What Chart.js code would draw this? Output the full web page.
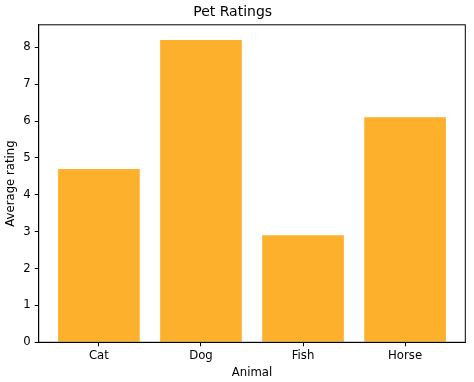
<!DOCTYPE html>
<html>
<head>
<meta charset="utf-8">
<script src="https://cdn.jsdelivr.net/npm/chart.js@4"></script>
<style>
html,body{margin:0;padding:0;background:#fff;}
#wrap{width:474px;height:382px;position:relative;}
</style>
</head>
<body>
<div id="wrap"><canvas id="c" width="474" height="382"></canvas></div>
<script>
const categories = ["Cat", "Dog", "Fish", "Horse"];
const ratings = [4.7, 8.2, 2.9, 6.1];
const yTicks = [0, 1, 2, 3, 4, 5, 6, 7, 8];
const chartTitle = "Pet Ratings";
const xTitle = "Animal";
const yTitle = "Average rating";

const FONT = "'DejaVu Sans', sans-serif";

const framePlugin = {
  id: 'frame',
  afterDatasetsDraw(chart) {
    const {ctx, chartArea: a} = chart;
    ctx.save();
    ctx.strokeStyle = '#000';
    ctx.lineWidth = 1;
    ctx.strokeRect(a.left, a.top, a.right - a.left, a.bottom - a.top);
    ctx.restore();
  }
};

new Chart(document.getElementById('c'), {
  type: 'bar',
  data: {
    datasets: [{
      data: ratings.map((v, i) => ({x: i, y: v})),
      backgroundColor: '#FCB02C',
      borderWidth: 0,
      barPercentage: 0.8,
      categoryPercentage: 1.0
    }]
  },
  options: {
    responsive: false,
    animation: false,
    devicePixelRatio: 1,
    layout: {padding: {left: 0, right: 8.7, top: 0, bottom: 0}},
    plugins: {
      legend: {display: false},
      tooltip: {enabled: false},
      title: {
        display: true,
        text: chartTitle,
        color: '#000',
        font: {family: FONT, size: 14, weight: 'normal'},
        padding: {top: 4, bottom: 4}
      }
    },
    scales: {
      x: {
        type: 'linear',
        offset: false,
        min: -0.59,
        max: 3.59,
        afterBuildTicks(scale) { scale.ticks = categories.map((c, i) => ({value: i})); },
        afterFit(scale) { scale.height = 39.7; },
        ticks: {
          color: '#000',
          font: {family: FONT, size: 11.7},
          padding: 3,
          maxRotation: 0,
          autoSkip: false,
          callback: (v) => categories[v]
        },
        grid: {offset: false, drawOnChartArea: false, drawTicks: true, tickLength: 4, color: '#000'},
        border: {display: true, color: '#000', width: 1},
        title: {
          display: true,
          text: xTitle,
          color: '#000',
          font: {family: FONT, size: 11.7},
          padding: {top: 0, bottom: 2}
        }
      },
      y: {
        type: 'linear',
        min: 0,
        max: 8.61,
        afterBuildTicks(scale) { scale.ticks = yTicks.map(v => ({value: v})); },
        afterFit(scale) { scale.width = 38.7; },
        ticks: {
          color: '#000',
          font: {family: FONT, size: 11.7},
          padding: 4,
          callback: (v) => String(v)
        },
        grid: {drawOnChartArea: false, drawTicks: true, tickLength: 4, color: '#000'},
        border: {display: true, color: '#000', width: 1},
        title: {
          display: true,
          text: yTitle,
          color: '#000',
          font: {family: FONT, size: 11.7},
          padding: {top: 4, bottom: 0}
        }
      }
    }
  },
  plugins: [framePlugin]
});
</script>
</body>
</html>
